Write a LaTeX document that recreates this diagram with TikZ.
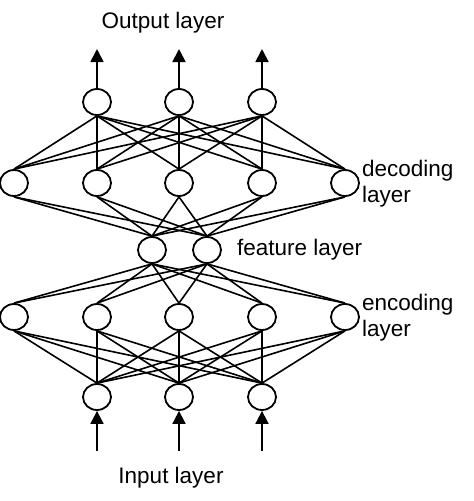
\documentclass[tikz,border=0pt]{standalone}
\usepackage{fontspec}
\setmainfont{Liberation Sans}
\usetikzlibrary{shapes.geometric,arrows.meta}
\begin{document}
\begin{tikzpicture}[x=1pt,y=-1pt,
  neuron/.style={draw,ellipse,line width=1.8pt,inner sep=0pt,minimum width=28pt,minimum height=26pt,fill=white},
  link/.style={line width=1.6pt},
  io/.style={line width=1.8pt,-{Triangle[width=13pt,length=13pt]}},
  lbl/.style={font=\fontsize{22.5}{26}\selectfont,inner sep=0pt},
  lbll/.style={lbl,anchor=west,align=left}]
\useasboundingbox (0,0) rectangle (474,501);
% nodes
\foreach \i/\x in {1/97,2/179,3/262}{
  \node[neuron] (o\i) at (\x,102) {};
  \node[neuron] (i\i) at (\x,397) {};
}
\foreach \i/\x in {1/14,2/97,3/179,4/262,5/345}{
  \node[neuron] (d\i) at (\x,183) {};
  \node[neuron] (e\i) at (\x,317) {};
}
\node[neuron] (f1) at (152,250) {};
\node[neuron] (f2) at (207,250) {};
% connections
\begin{scope}[on background layer/.style={}]
\foreach \a in {1,2,3}{\foreach \b in {1,...,5}{
  \draw[link] (o\a.south) -- (d\b.north);
  \draw[link] (e\b.south) -- (i\a.north);
}}
\foreach \a in {1,2}{\foreach \b in {1,...,5}{
  \draw[link] (d\b.south) -- (f\a.north);
  \draw[link] (f\a.south) -- (e\b.north);
}}
\end{scope}
% arrows
\foreach \i/\x in {1/97,2/179,3/262}{
  \coordinate (ot\i) at (\x,49);
  \coordinate (ib\i) at (\x,451);
  \draw[io] (o\i.north) -- (ot\i);
  \draw[io] (ib\i) -- (i\i.south);
}
% labels
\node[lbl] (outl) at (163,23) {Output layer};
\node[lbl] (inl) at (171,478) {Input layer};
\node[lbll] (decl) at (362,184) {decoding\\layer};
\node[lbll] (featl) at (237,250) {feature layer};
\node[lbll] (encl) at (362,318) {encoding\\layer};
\end{tikzpicture}
\end{document}
